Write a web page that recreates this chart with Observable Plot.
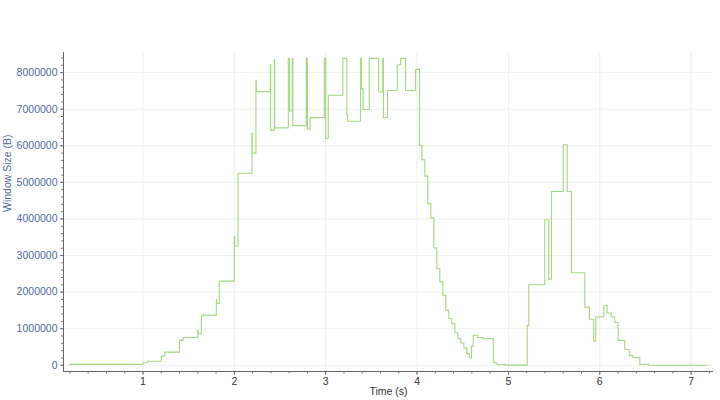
<!DOCTYPE html>
<html><head><meta charset="utf-8">
<script src="https://cdn.jsdelivr.net/npm/d3@7"></script>
<script src="https://cdn.jsdelivr.net/npm/@observablehq/plot@0.6"></script>
<style>
body{margin:0;background:#fff;font-family:"Liberation Sans",Arial,sans-serif}
#chart{width:720px;height:400px}
</style>
</head><body><div id="chart"></div>
<script>
// Step points of the receive window over time (seconds, bytes)
const times = [0.20, 1.00, 1.048, 1.20, 1.24, 1.40, 1.44, 1.60, 1.605, 1.639, 1.803, 1.808, 1.836, 2.00, 2.004, 2.04,
  2.193, 2.197, 2.236, 2.241, 2.394, 2.398, 2.438, 2.442, 2.591, 2.605, 2.635, 2.64, 2.788, 2.80, 2.83, 2.985, 3.00, 3.028,
  3.188, 3.232, 3.24, 3.382, 3.39, 3.41, 3.477, 3.579, 3.626, 3.632, 3.677, 3.783, 3.80, 3.82, 3.874, 3.984, 4.027,
  4.053, 4.085, 4.118, 4.151, 4.184, 4.217, 4.249, 4.282, 4.315, 4.348, 4.381, 4.414, 4.446, 4.479, 4.512, 4.545, 4.574,
  4.596, 4.615, 4.665, 4.724, 4.834, 4.877, 4.968, 5.206, 5.223, 5.398, 5.442, 5.471, 5.60, 5.643, 5.69, 5.836, 5.887,
  5.934, 5.956, 6.044, 6.081, 6.125, 6.164, 6.201, 6.274, 6.322, 6.361, 6.438, 6.536, 7.175];
const windowSizes = [25000, 70000, 110000, 250000, 360000, 680000, 760000, 960000, 860000, 1370000, 1800000, 1690000,
  2300000, 3520000, 3260000, 5250000, 6350000, 5800000, 7790000, 7480000, 8220000, 6420000, 8350000, 6490000, 8388608,
  6950000, 8388608, 6550000, 8388608, 6450000, 6770000, 8388608, 6200000, 7380000, 8388608, 6860000, 6670000, 8388608,
  7560000, 6990000, 8388608, 7470000, 8388608, 6770000, 7510000, 8200000, 8220000, 8388608, 7510000, 8090000, 6010000,
  5620000, 5170000, 4420000, 4030000, 3210000, 2640000, 2280000, 1910000, 1500000, 1270000, 1140000, 890000, 730000,
  610000, 470000, 320000, 200000, 520000, 820000, 760000, 730000, 70000, 20000, 5000, 1090000, 2200000, 3980000,
  2350000, 4750000, 6030000, 4750000, 2530000, 1590000, 1260000, 660000, 1320000, 1630000, 1430000, 1320000, 1170000,
  680000, 430000, 270000, 210000, 30000, 0, 0];

const xMajorTicks = [1, 2, 3, 4, 5, 6, 7];
const yMajorTicks = [0, 1000000, 2000000, 3000000, 4000000, 5000000, 6000000, 7000000, 8000000];
const xMinorTicks = d3.range(1, 37).map(i => i * 0.2);
const yMinorTicks = d3.range(0, 43).map(i => i * 200000);
const xDomain = [0.13, 7.245];
const yDomain = [-170000, 8550000];

const data = times.map((t, i) => ({t, w: windowSizes[i]}));
const blue = "#4f6aa6";

const chart = Plot.plot({
  width: 720,
  height: 400,
  marginTop: 52,
  marginBottom: 29,
  marginLeft: 63,
  marginRight: 7,
  style: {fontFamily: "Liberation Sans, Arial, sans-serif", fontSize: "10px", background: "#fff"},
  x: {domain: xDomain},
  y: {domain: yDomain},
  marks: [
    Plot.gridX(xMajorTicks, {stroke: "#eeeeee", strokeOpacity: 1}),
    Plot.gridY(yMajorTicks, {stroke: "#f0f0f0", strokeOpacity: 1}),
    Plot.axisX(xMinorTicks, {tickSize: 2.5, text: null, stroke: "#777", label: null}),
    Plot.axisX(xMajorTicks, {tickSize: 4, tickPadding: 2, stroke: "#777", fill: "#333", label: null, fontSize: 10.5}),
    Plot.axisY(yMinorTicks, {tickSize: 2, text: null, stroke: "#777", label: null}),
    Plot.axisY(yMajorTicks, {tickSize: 3, tickPadding: 3, stroke: "#777", fill: blue, label: null,
      tickFormat: d3.format("d"), fontSize: 10.5}),
    Plot.ruleX([xDomain[0]], {stroke: "#666"}),
    Plot.ruleY([yDomain[0]], {stroke: "#666"}),
    Plot.line(data, {x: "t", y: "w", curve: "step-after", stroke: "#8ccd62", strokeOpacity: 0.8, strokeWidth: 1.1}),
    Plot.text(["Window Size (B)"], {frameAnchor: "left", rotate: -90, dx: -56, fill: blue, fontSize: 10.5}),
    Plot.text(["Time (s)"], {frameAnchor: "bottom", dy: 23, fill: "#333", fontSize: 10.5})
  ]
});
document.getElementById("chart").appendChild(chart);
</script>
</body></html>
